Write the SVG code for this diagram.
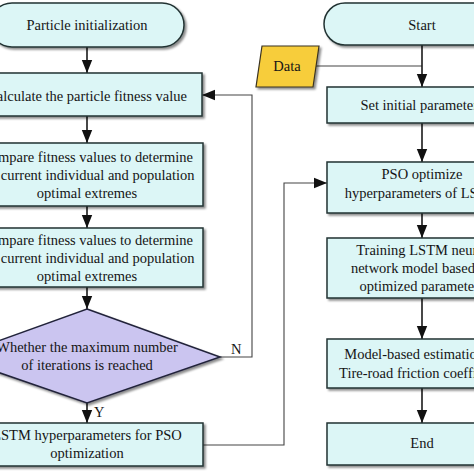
<svg xmlns="http://www.w3.org/2000/svg" width="474" height="474" viewBox="0 0 474 474">
<defs>
<filter id="sh" x="-10%" y="-10%" width="130%" height="140%">
<feDropShadow dx="2" dy="2" stdDeviation="1" flood-color="#000" flood-opacity="0.45"/>
</filter>
<marker id="ah2" viewBox="0 0 10 10" refX="10" refY="5" markerWidth="13" markerHeight="13" orient="auto" markerUnits="userSpaceOnUse">
<path d="M0,1 L10,5 L0,9 z" fill="#111"/>
</marker>
</defs>
<style>
.box{fill:#dcf6f6;stroke:#223333;stroke-width:1.5;filter:url(#sh)}
.dia{fill:#cbc5f0;stroke:#22243a;stroke-width:1.5;filter:url(#sh)}
.data{fill:#f7cd3a;stroke:#3a3320;stroke-width:1.2;filter:url(#sh)}
text{font-family:"Liberation Serif","Times New Roman",serif;font-size:14.5px;fill:#151515;text-anchor:middle}
.lbl{text-anchor:start}
.main{stroke:#1a1a1a;stroke-width:1.6;fill:none;marker-end:url(#ah2)}
.thin{stroke:#444;stroke-width:1.1;fill:none}
.thina{stroke:#444;stroke-width:1.1;fill:none;marker-end:url(#ah2)}
</style>
<rect width="474" height="474" fill="#fff"/>
<g id="connectors">
<line class="main" x1="87" y1="47" x2="87" y2="73"/>
<line class="main" x1="87" y1="116" x2="87" y2="143"/>
<line class="main" x1="87" y1="206" x2="87" y2="228"/>
<line class="main" x1="87" y1="287" x2="87" y2="309"/>
<line class="main" x1="87" y1="403" x2="87" y2="423"/>
<polyline class="thina" points="220,357 252,357 252,95 202,95"/>
<polyline class="thina" points="203,445 284,445 284,183 327,183"/>
<line class="thin" x1="316" y1="66" x2="422" y2="66"/>
<line class="main" x1="422" y1="45" x2="422" y2="87"/>
<line class="main" x1="422" y1="123" x2="422" y2="162"/>
<line class="main" x1="422" y1="213" x2="422" y2="238"/>
<line class="main" x1="422" y1="298" x2="422" y2="339"/>
<line class="main" x1="422" y1="388" x2="422" y2="423"/>
<text class="lbl" x="231" y="354">N</text>
<text class="lbl" x="94" y="417">Y</text>
</g>
<g id="particle-init">
<rect class="box" x="-10" y="3" width="194" height="44" rx="22"/>
<text x="87" y="30">Particle initialization</text>
</g>
<g id="calc-fitness">
<rect class="box" x="-28" y="73" width="230" height="43"/>
<text x="87" y="101">Calculate the particle fitness value</text>
</g>
<g id="compare1">
<rect class="box" x="-28" y="143" width="231" height="63"/>
<text x="87" y="162">Compare fitness values to determine</text>
<text x="87" y="180">the current individual and population</text>
<text x="87" y="198">optimal extremes</text>
</g>
<g id="compare2">
<rect class="box" x="-28" y="228" width="231" height="59"/>
<text x="87" y="245">Compare fitness values to determine</text>
<text x="87" y="263">the current individual and population</text>
<text x="87" y="281">optimal extremes</text>
</g>
<g id="decision">
<polygon class="dia" points="87,309 220,357 87,403 -46,357"/>
<text x="87" y="352">Whether the maximum number</text>
<text x="87" y="370">of iterations is reached</text>
</g>
<g id="lstm-hyper">
<rect class="box" x="-28" y="423" width="231" height="43"/>
<text x="87" y="440">LSTM hyperparameters for PSO</text>
<text x="87" y="458">optimization</text>
</g>
<g id="start">
<rect class="box" x="324" y="3" width="196" height="42" rx="21"/>
<text x="422" y="30">Start</text>
</g>
<g id="data">
<polygon class="data" points="262,46 319,46 313,87 256,87"/>
<text x="287" y="71">Data</text>
</g>
<g id="set-params">
<rect class="box" x="327" y="87" width="190" height="36"/>
<text x="422" y="110">Set initial parameters</text>
</g>
<g id="pso">
<rect class="box" x="327" y="162" width="190" height="51"/>
<text x="422" y="179">PSO optimize</text>
<text x="422" y="198">hyperparameters of LSTM</text>
</g>
<g id="training">
<rect class="box" x="327" y="238" width="190" height="60"/>
<text x="422" y="255">Training LSTM neural</text>
<text x="422" y="273">network model based on</text>
<text x="422" y="291">optimized parameters</text>
</g>
<g id="model">
<rect class="box" x="327" y="339" width="190" height="49"/>
<text x="422" y="359">Model-based estimation of</text>
<text x="422" y="378">Tire-road friction coefficient</text>
</g>
<g id="end">
<rect class="box" x="327" y="423" width="190" height="42"/>
<text x="422" y="448">End</text>
</g>
</svg>
